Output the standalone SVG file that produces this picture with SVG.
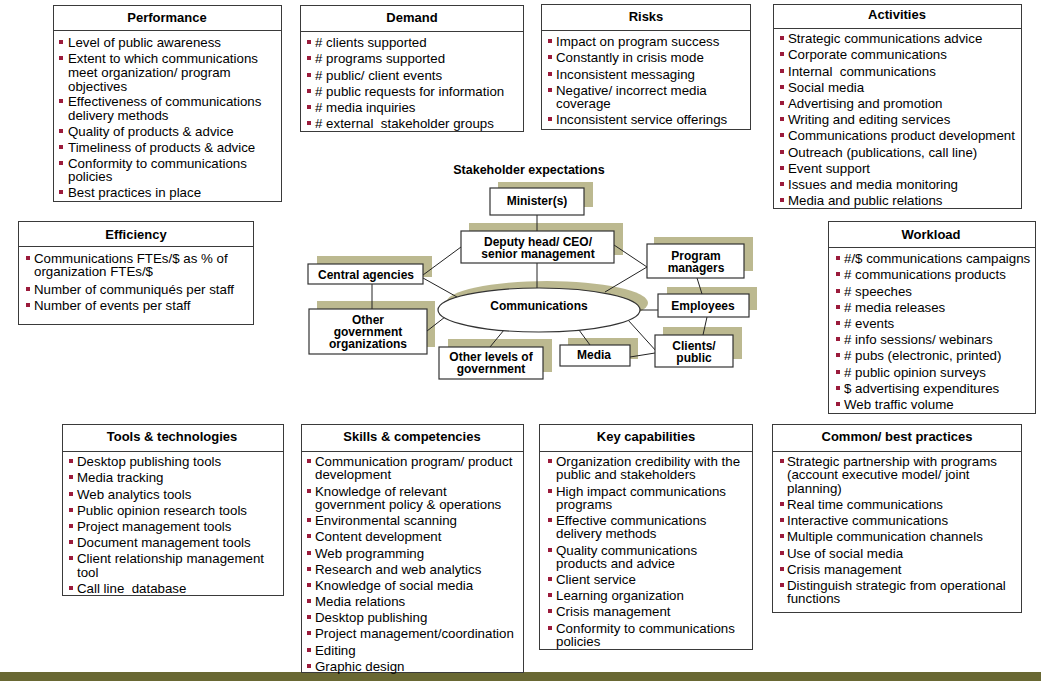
<svg xmlns="http://www.w3.org/2000/svg" width="1041" height="681" viewBox="0 0 1041 681">
<style>
.p{fill:#fff;stroke:#3a3a3a;stroke-width:1}
.hl{stroke:#3a3a3a;stroke-width:1}
.h{font-family:"Liberation Sans",Arial,sans-serif;font-size:13px;font-weight:bold;text-anchor:middle;fill:#000}
.t{font-family:"Liberation Sans",Arial,sans-serif;font-size:13.3px;fill:#000;white-space:pre}
.b{fill:#9b1b3b}
.sh{fill:#bcb990}
.nb{fill:#fff;stroke:#333;stroke-width:1.2}
.n{font-family:"Liberation Sans",Arial,sans-serif;font-size:12px;font-weight:bold;text-anchor:middle;fill:#000}
.c{stroke:#222;stroke-width:1;fill:none}
</style>
<rect x="0" y="672" width="1041" height="9" fill="#696833"/>

<g id="performance">
<rect class="p" x="53.5" y="5.5" width="228" height="196"/>
<line class="hl" x1="53.5" y1="30.5" x2="281.5" y2="30.5"/>
<text class="h" x="167" y="22">Performance</text>
<rect class="b" x="59" y="40" width="4" height="4"/><text class="t" x="68" y="46.5">Level of public awareness</text>
<rect class="b" x="59" y="56" width="4" height="4"/><text class="t" x="68" y="62.5">Extent to which communications</text>
<text class="t" x="68" y="76.5">meet organization/ program</text>
<text class="t" x="68" y="90.5">objectives</text>
<rect class="b" x="59" y="99" width="4" height="4"/><text class="t" x="68" y="105.5">Effectiveness of communications</text>
<text class="t" x="68" y="119.5">delivery methods</text>
<rect class="b" x="59" y="129" width="4" height="4"/><text class="t" x="68" y="135.5">Quality of products &amp; advice</text>
<rect class="b" x="59" y="145" width="4" height="4"/><text class="t" x="68" y="151.5">Timeliness of products &amp; advice</text>
<rect class="b" x="59" y="161" width="4" height="4"/><text class="t" x="68" y="167.5">Conformity to communications</text>
<text class="t" x="68" y="180.5">policies</text>
<rect class="b" x="59" y="190" width="4" height="4"/><text class="t" x="68" y="196.5">Best practices in place</text>
</g>

<g id="demand">
<rect class="p" x="300.5" y="5.5" width="223" height="126"/>
<line class="hl" x1="300.5" y1="31.5" x2="523.5" y2="31.5"/>
<text class="h" x="412" y="22">Demand</text>
<rect class="b" x="307" y="40" width="4" height="4"/><text class="t" x="315" y="46.5"># clients supported</text>
<rect class="b" x="307" y="56" width="4" height="4"/><text class="t" x="315" y="62.5"># programs supported</text>
<rect class="b" x="307" y="73" width="4" height="4"/><text class="t" x="315" y="79.5"># public/ client events</text>
<rect class="b" x="307" y="89" width="4" height="4"/><text class="t" x="315" y="95.5"># public requests for information</text>
<rect class="b" x="307" y="105" width="4" height="4"/><text class="t" x="315" y="111.5"># media inquiries</text>
<rect class="b" x="307" y="121" width="4" height="4"/><text class="t" x="315" y="127.5"># external  stakeholder groups</text>
</g>

<g id="risks">
<rect class="p" x="541.5" y="4.5" width="209" height="125"/>
<line class="hl" x1="541.5" y1="30.5" x2="750.5" y2="30.5"/>
<text class="h" x="646" y="21">Risks</text>
<rect class="b" x="548" y="39" width="4" height="4"/><text class="t" x="556" y="45.5">Impact on program success</text>
<rect class="b" x="548" y="55" width="4" height="4"/><text class="t" x="556" y="61.5">Constantly in crisis mode</text>
<rect class="b" x="548" y="72" width="4" height="4"/><text class="t" x="556" y="78.5">Inconsistent messaging</text>
<rect class="b" x="548" y="88" width="4" height="4"/><text class="t" x="556" y="94.5">Negative/ incorrect media</text>
<text class="t" x="556" y="107.5">coverage</text>
<rect class="b" x="548" y="117" width="4" height="4"/><text class="t" x="556" y="123.5">Inconsistent service offerings</text>
</g>

<g id="activities">
<rect class="p" x="773.5" y="4.5" width="248" height="204"/>
<line class="hl" x1="773.5" y1="28.5" x2="1021.5" y2="28.5"/>
<text class="h" x="897" y="19">Activities</text>
<rect class="b" x="780" y="36" width="4" height="4"/><text class="t" x="788" y="42.5">Strategic communications advice</text>
<rect class="b" x="780" y="52" width="4" height="4"/><text class="t" x="788" y="58.5">Corporate communications</text>
<rect class="b" x="780" y="69" width="4" height="4"/><text class="t" x="788" y="75.5">Internal  communications</text>
<rect class="b" x="780" y="85" width="4" height="4"/><text class="t" x="788" y="91.5">Social media</text>
<rect class="b" x="780" y="101" width="4" height="4"/><text class="t" x="788" y="107.5">Advertising and promotion</text>
<rect class="b" x="780" y="117" width="4" height="4"/><text class="t" x="788" y="123.5">Writing and editing services</text>
<rect class="b" x="780" y="133" width="4" height="4"/><text class="t" x="788" y="139.5">Communications product development</text>
<rect class="b" x="780" y="150" width="4" height="4"/><text class="t" x="788" y="156.5">Outreach (publications, call line)</text>
<rect class="b" x="780" y="166" width="4" height="4"/><text class="t" x="788" y="172.5">Event support</text>
<rect class="b" x="780" y="182" width="4" height="4"/><text class="t" x="788" y="188.5">Issues and media monitoring</text>
<rect class="b" x="780" y="198" width="4" height="4"/><text class="t" x="788" y="204.5">Media and public relations</text>
</g>

<g id="efficiency">
<rect class="p" x="18.5" y="221.5" width="235" height="103"/>
<line class="hl" x1="18.5" y1="246.5" x2="253.5" y2="246.5"/>
<text class="h" x="136" y="239">Efficiency</text>
<rect class="b" x="26" y="256" width="4" height="4"/><text class="t" x="34" y="262.5">Communications FTEs/$ as % of</text>
<text class="t" x="34" y="275.5">organization FTEs/$</text>
<rect class="b" x="26" y="287" width="4" height="4"/><text class="t" x="34" y="293.5">Number of communiqués per staff</text>
<rect class="b" x="26" y="303" width="4" height="4"/><text class="t" x="34" y="309.5">Number of events per staff</text>
</g>

<g id="workload">
<rect class="p" x="828.5" y="221.5" width="207" height="192"/>
<line class="hl" x1="828.5" y1="247.5" x2="1035.5" y2="247.5"/>
<text class="h" x="931" y="239">Workload</text>
<rect class="b" x="836" y="256" width="4" height="4"/><text class="t" x="844" y="262.5">#/$ communications campaigns</text>
<rect class="b" x="836" y="272" width="4" height="4"/><text class="t" x="844" y="278.5"># communications products</text>
<rect class="b" x="836" y="289" width="4" height="4"/><text class="t" x="844" y="295.5"># speeches</text>
<rect class="b" x="836" y="305" width="4" height="4"/><text class="t" x="844" y="311.5"># media releases</text>
<rect class="b" x="836" y="321" width="4" height="4"/><text class="t" x="844" y="327.5"># events</text>
<rect class="b" x="836" y="337" width="4" height="4"/><text class="t" x="844" y="343.5"># info sessions/ webinars</text>
<rect class="b" x="836" y="353" width="4" height="4"/><text class="t" x="844" y="359.5"># pubs (electronic, printed)</text>
<rect class="b" x="836" y="370" width="4" height="4"/><text class="t" x="844" y="376.5"># public opinion surveys</text>
<rect class="b" x="836" y="386" width="4" height="4"/><text class="t" x="844" y="392.5">$ advertising expenditures</text>
<rect class="b" x="836" y="402" width="4" height="4"/><text class="t" x="844" y="408.5">Web traffic volume</text>
</g>

<g id="tools">
<rect class="p" x="62.5" y="424.5" width="221" height="171"/>
<line class="hl" x1="62.5" y1="451.5" x2="283.5" y2="451.5"/>
<text class="h" x="172" y="441">Tools &amp; technologies</text>
<rect class="b" x="69" y="459" width="4" height="4"/><text class="t" x="77" y="465.5">Desktop publishing tools</text>
<rect class="b" x="69" y="475" width="4" height="4"/><text class="t" x="77" y="481.5">Media tracking</text>
<rect class="b" x="69" y="492" width="4" height="4"/><text class="t" x="77" y="498.5">Web analytics tools</text>
<rect class="b" x="69" y="508" width="4" height="4"/><text class="t" x="77" y="514.5">Public opinion research tools</text>
<rect class="b" x="69" y="524" width="4" height="4"/><text class="t" x="77" y="530.5">Project management tools</text>
<rect class="b" x="69" y="540" width="4" height="4"/><text class="t" x="77" y="546.5">Document management tools</text>
<rect class="b" x="69" y="556" width="4" height="4"/><text class="t" x="77" y="562.5">Client relationship management</text>
<text class="t" x="77" y="576.5">tool</text>
<rect class="b" x="69" y="586" width="4" height="4"/><text class="t" x="77" y="592.5">Call line  database</text>
</g>

<g id="skills">
<rect class="p" x="301.5" y="424.5" width="222" height="248"/>
<line class="hl" x1="301.5" y1="451.5" x2="523.5" y2="451.5"/>
<text class="h" x="412" y="441">Skills &amp; competencies</text>
<rect class="b" x="307" y="459" width="4" height="4"/><text class="t" x="315" y="465.5">Communication program/ product</text>
<text class="t" x="315" y="478.5">development</text>
<rect class="b" x="307" y="489" width="4" height="4"/><text class="t" x="315" y="495.5">Knowledge of relevant</text>
<text class="t" x="315" y="508.5">government policy &amp; operations</text>
<rect class="b" x="307" y="518" width="4" height="4"/><text class="t" x="315" y="524.5">Environmental scanning</text>
<rect class="b" x="307" y="534" width="4" height="4"/><text class="t" x="315" y="540.5">Content development</text>
<rect class="b" x="307" y="551" width="4" height="4"/><text class="t" x="315" y="557.5">Web programming</text>
<rect class="b" x="307" y="567" width="4" height="4"/><text class="t" x="315" y="573.5">Research and web analytics</text>
<rect class="b" x="307" y="583" width="4" height="4"/><text class="t" x="315" y="589.5">Knowledge of social media</text>
<rect class="b" x="307" y="599" width="4" height="4"/><text class="t" x="315" y="605.5">Media relations</text>
<rect class="b" x="307" y="615" width="4" height="4"/><text class="t" x="315" y="621.5">Desktop publishing</text>
<rect class="b" x="307" y="631" width="4" height="4"/><text class="t" x="315" y="637.5">Project management/coordination</text>
<rect class="b" x="307" y="648" width="4" height="4"/><text class="t" x="315" y="654.5">Editing</text>
<rect class="b" x="307" y="664" width="4" height="4"/><text class="t" x="315" y="670.5">Graphic design</text>
</g>

<g id="key-capabilities">
<rect class="p" x="539.5" y="424.5" width="213" height="225"/>
<line class="hl" x1="539.5" y1="451.5" x2="752.5" y2="451.5"/>
<text class="h" x="646" y="441">Key capabilities</text>
<rect class="b" x="548" y="459" width="4" height="4"/><text class="t" x="556" y="465.5">Organization credibility with the</text>
<text class="t" x="556" y="478.5">public and stakeholders</text>
<rect class="b" x="548" y="489" width="4" height="4"/><text class="t" x="556" y="495.5">High impact communications</text>
<text class="t" x="556" y="508.5">programs</text>
<rect class="b" x="548" y="518" width="4" height="4"/><text class="t" x="556" y="524.5">Effective communications</text>
<text class="t" x="556" y="537.5">delivery methods</text>
<rect class="b" x="548" y="548" width="4" height="4"/><text class="t" x="556" y="554.5">Quality communications</text>
<text class="t" x="556" y="567.5">products and advice</text>
<rect class="b" x="548" y="577" width="4" height="4"/><text class="t" x="556" y="583.5">Client service</text>
<rect class="b" x="548" y="593" width="4" height="4"/><text class="t" x="556" y="599.5">Learning organization</text>
<rect class="b" x="548" y="609" width="4" height="4"/><text class="t" x="556" y="615.5">Crisis management</text>
<rect class="b" x="548" y="626" width="4" height="4"/><text class="t" x="556" y="632.5">Conformity to communications</text>
<text class="t" x="556" y="645.5">policies</text>
</g>

<g id="common-best-practices">
<rect class="p" x="772.5" y="424.5" width="249" height="188"/>
<line class="hl" x1="772.5" y1="451.5" x2="1021.5" y2="451.5"/>
<text class="h" x="897" y="441">Common/ best practices</text>
<rect class="b" x="780" y="459" width="4" height="4"/><text class="t" x="787" y="465.5">Strategic partnership with programs</text>
<text class="t" x="787" y="478.5">(account executive model/ joint</text>
<text class="t" x="787" y="492.5">planning)</text>
<rect class="b" x="780" y="502" width="4" height="4"/><text class="t" x="787" y="508.5">Real time communications</text>
<rect class="b" x="780" y="518" width="4" height="4"/><text class="t" x="787" y="524.5">Interactive communications</text>
<rect class="b" x="780" y="534" width="4" height="4"/><text class="t" x="787" y="540.5">Multiple communication channels</text>
<rect class="b" x="780" y="551" width="4" height="4"/><text class="t" x="787" y="557.5">Use of social media</text>
<rect class="b" x="780" y="567" width="4" height="4"/><text class="t" x="787" y="573.5">Crisis management</text>
<rect class="b" x="780" y="583" width="4" height="4"/><text class="t" x="787" y="589.5">Distinguish strategic from operational</text>
<text class="t" x="787" y="602.5">functions</text>
</g>

<text class="n" x="529" y="174" style="font-size:12.5px">Stakeholder expectations</text>

<g id="shadows">
<rect class="sh" x="498" y="182" width="95" height="25"/>
<rect class="sh" x="469" y="223" width="154" height="32"/>
<rect class="sh" x="317" y="256" width="115" height="21"/>
<rect class="sh" x="317" y="301" width="118" height="46"/>
<ellipse class="sh" cx="547" cy="303" rx="101" ry="22"/>
<rect class="sh" x="654" y="237" width="99" height="34"/>
<rect class="sh" x="667" y="287" width="90" height="23"/>
<rect class="sh" x="663" y="327" width="79" height="32"/>
<rect class="sh" x="568" y="338" width="70" height="21"/>
<rect class="sh" x="448" y="339" width="104" height="33"/>
</g>

<g id="connectors">
<line class="c" x1="537" y1="215" x2="537" y2="231"/>
<line class="c" x1="537" y1="263" x2="537" y2="288"/>
<line class="c" x1="461" y1="247" x2="423" y2="275"/>
<line class="c" x1="614" y1="245" x2="647" y2="267"/>
<line class="c" x1="423" y1="278" x2="457" y2="297"/>
<line class="c" x1="372" y1="284" x2="372" y2="309"/>
<line class="c" x1="427" y1="331" x2="445" y2="317"/>
<line class="c" x1="504" y1="330" x2="490" y2="347"/>
<line class="c" x1="579" y1="330" x2="590" y2="345"/>
<line class="c" x1="605" y1="292" x2="647" y2="267"/>
<line class="c" x1="640" y1="310" x2="658" y2="310"/>
<line class="c" x1="628" y1="320" x2="657" y2="352"/>
<line class="c" x1="630" y1="357" x2="655" y2="353"/>
<line class="c" x1="697" y1="278" x2="702" y2="294"/>
<line class="c" x1="707" y1="317" x2="703" y2="335"/>
</g>

<g id="ministers">
<rect class="nb" x="490" y="188" width="94" height="27"/>
<text class="n" x="537" y="205">Minister(s)</text>
</g>
<g id="deputy-head">
<rect class="nb" x="461" y="231" width="153" height="32"/>
<text class="n" x="538" y="246">Deputy head/ CEO/</text>
<text class="n" x="538" y="258">senior management</text>
</g>
<g id="central-agencies">
<rect class="nb" x="308" y="264" width="115" height="20"/>
<text class="n" x="366" y="279">Central agencies</text>
</g>
<g id="other-government-organizations">
<rect class="nb" x="309" y="309" width="118" height="45"/>
<text class="n" x="368" y="324">Other</text>
<text class="n" x="368" y="336">government</text>
<text class="n" x="368" y="348">organizations</text>
</g>
<g id="communications">
<ellipse class="nb" cx="539" cy="310" rx="101" ry="22"/>
<text class="n" x="539" y="310">Communications</text>
</g>
<g id="program-managers">
<rect class="nb" x="647" y="244" width="97" height="34"/>
<text class="n" x="696" y="260">Program</text>
<text class="n" x="696" y="272">managers</text>
</g>
<g id="employees">
<rect class="nb" x="658" y="294" width="91" height="23"/>
<text class="n" x="703" y="310">Employees</text>
</g>
<g id="clients-public">
<rect class="nb" x="655" y="335" width="78" height="32"/>
<text class="n" x="694" y="350">Clients/</text>
<text class="n" x="694" y="362">public</text>
</g>
<g id="media">
<rect class="nb" x="560" y="345" width="70" height="21"/>
<text class="n" x="594" y="359">Media</text>
</g>
<g id="other-levels-of-government">
<rect class="nb" x="439" y="347" width="104" height="32"/>
<text class="n" x="491" y="361">Other levels of</text>
<text class="n" x="491" y="373">government</text>
</g>
</svg>
